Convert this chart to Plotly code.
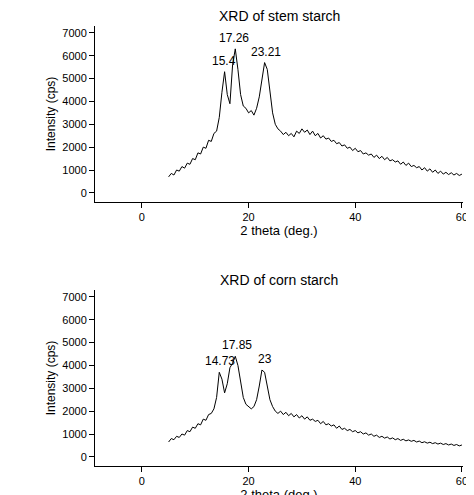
import numpy as np
import plotly.graph_objects as go
from plotly.subplots import make_subplots

two_theta = [5 + 0.5 * i for i in range(111)]
stem = [700,850,780,1000,950,1150,1080,1300,1250,1500,1450,1750,1700,2000,1950,2300,2250,2600,2700,3300,4400,5300,4300,3900,5600,6300,5400,4300,3800,3700,3500,3600,3400,3700,4200,5000,5700,5400,4400,3500,3000,2800,2700,2550,2650,2500,2600,2450,2700,2600,2800,2650,2750,2550,2700,2500,2600,2400,2500,2350,2400,2250,2300,2150,2200,2050,2100,1950,2000,1850,1950,1800,1850,1700,1750,1650,1700,1550,1650,1500,1600,1450,1550,1400,1450,1350,1400,1250,1350,1200,1300,1150,1200,1100,1150,1000,1100,950,1050,900,1000,850,950,820,900,800,880,780,850,760,820]
corn = [650,800,750,900,850,1000,950,1150,1100,1300,1250,1450,1400,1650,1600,1850,1900,2100,2600,3700,3400,2800,3200,3900,4100,4400,4000,3300,2600,2300,2200,2100,2200,2500,3100,3800,3700,3000,2500,2200,2000,1900,2000,1850,1950,1800,1900,1750,1850,1700,1800,1650,1750,1600,1650,1550,1600,1450,1550,1400,1450,1350,1400,1250,1350,1200,1250,1150,1200,1100,1150,1050,1100,1000,1050,950,1000,900,950,850,900,820,870,780,830,750,800,720,770,700,740,680,720,650,690,620,660,600,640,580,620,560,600,540,580,520,560,500,540,480,520]
stem_peaks = [(15.4, 5300, "15.4"), (17.26, 6300, "17.26"), (23.21, 5700, "23.21")]
corn_peaks = [(14.73, 3700, "14.73"), (17.85, 4400, "17.85"), (23.0, 3800, "23")]
titles = ["XRD of stem starch", "XRD of corn starch"]

fig = make_subplots(rows=2, cols=1, vertical_spacing=0.2)
for r, ys in enumerate([stem, corn], start=1):
    fig.add_trace(go.Scatter(x=two_theta, y=ys, mode="lines",
                             line=dict(color="black", width=1), showlegend=False), row=r, col=1)
    fig.update_xaxes(range=[-8.8, 60.2], tickvals=[0, 20, 40, 60], showline=True, linecolor="black",
                     ticks="outside", tickcolor="black", showgrid=False, zeroline=False,
                     automargin=False,
                     title=dict(text="2 theta (deg.)", standoff=2, font=dict(size=13)), row=r, col=1)
    fig.update_yaxes(range=[-400, 7300], tickvals=list(range(0, 7001, 1000)), showline=True,
                     linecolor="black", ticks="outside", tickcolor="black", showgrid=False,
                     zeroline=False, automargin=False,
                     title=dict(text="Intensity (cps)", standoff=4, font=dict(size=12)),
                     row=r, col=1)

fig.update_layout(yaxis=dict(domain=[0.6, 1.0]), yaxis2=dict(domain=[0.0, 0.4]))
for r, peaks in enumerate([stem_peaks, corn_peaks], start=1):
    xr = "x" if r == 1 else "x2"
    yr = "y" if r == 1 else "y2"
    for px, py, t in peaks:
        fig.add_annotation(x=px, y=py, xref=xr, yref=yr, text=t, showarrow=False,
                           yanchor="bottom", yshift=2, font=dict(size=12, color="black"))
fig.add_annotation(x=0.5, y=1.0, xref="paper", yref="paper", text=titles[0], showarrow=False,
                   yanchor="bottom", font=dict(size=14, color="black"))
fig.add_annotation(x=0.5, y=0.4, xref="paper", yref="paper", text=titles[1], showarrow=False,
                   yanchor="bottom", font=dict(size=14, color="black"))

fig.update_layout(width=474, height=495, paper_bgcolor="white", plot_bgcolor="white",
                  margin=dict(l=87, r=19, t=18, b=37),
                  font=dict(family="Liberation Sans, Arial", size=11, color="black"))
fig.write_html("out.html")
